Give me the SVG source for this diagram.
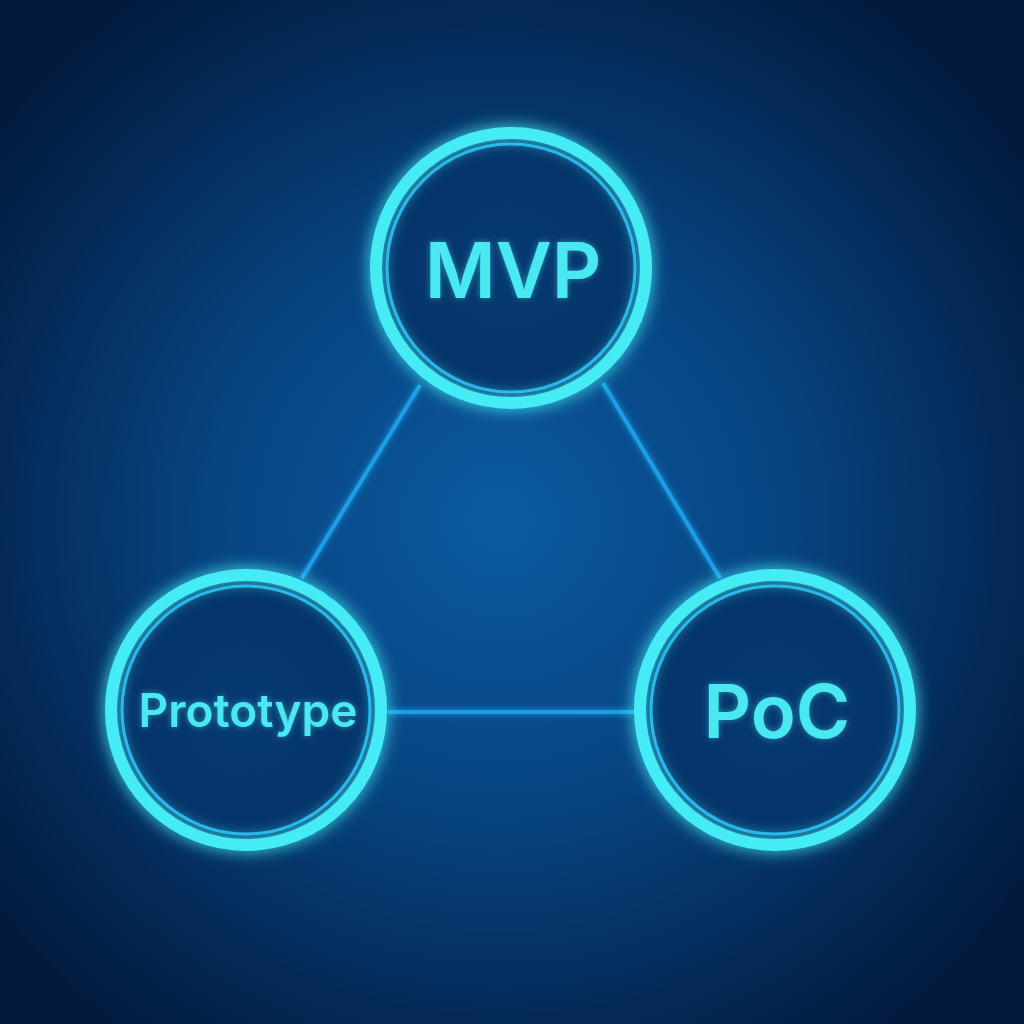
<svg xmlns="http://www.w3.org/2000/svg" width="1024" height="1024" viewBox="0 0 1024 1024">
  <defs>
    <radialGradient id="bg" cx="500" cy="520" r="640" gradientUnits="userSpaceOnUse">
      <stop offset="0" stop-color="#0b5aa0"/>
      <stop offset="0.45" stop-color="#074481"/>
      <stop offset="1" stop-color="#021a3c"/>
    </radialGradient>
    <radialGradient id="nodefill" cx="0.5" cy="0.5" r="0.5">
      <stop offset="0" stop-color="#063a72"/>
      <stop offset="1" stop-color="#05346a"/>
    </radialGradient>
    <filter id="glow" x="-30%" y="-30%" width="160%" height="160%">
      <feGaussianBlur in="SourceGraphic" stdDeviation="8" result="b"/>
      <feMerge>
        <feMergeNode in="b"/>
        <feMergeNode in="SourceGraphic"/>
      </feMerge>
    </filter>
    <filter id="lineglow" filterUnits="userSpaceOnUse" x="0" y="0" width="1024" height="1024">
      <feGaussianBlur in="SourceGraphic" stdDeviation="3" result="b"/>
      <feMerge>
        <feMergeNode in="b"/>
        <feMergeNode in="SourceGraphic"/>
      </feMerge>
    </filter>
    <filter id="textglow" x="-20%" y="-40%" width="140%" height="180%">
      <feGaussianBlur in="SourceGraphic" stdDeviation="3" result="b"/>
      <feComponentTransfer in="b" result="b2">
        <feFuncA type="linear" slope="0.5"/>
      </feComponentTransfer>
      <feMerge>
        <feMergeNode in="b2"/>
        <feMergeNode in="SourceGraphic"/>
      </feMerge>
    </filter>
  </defs>
  <style>
    .fill { fill: url(#nodefill); }
    .ring { fill: none; stroke: #45ecf6; stroke-width: 12; filter: url(#glow); }
    .inner { fill: none; stroke: #1fa8e8; stroke-width: 3; }
    .edge { stroke: #1a9fe6; stroke-width: 4; fill: none; filter: url(#lineglow); }
    .label { fill: #48e8f2; font-family: Inter, "Liberation Sans", Arial, sans-serif; font-weight: 600; text-anchor: middle; filter: url(#textglow); }
  </style>
  <rect width="1024" height="1024" fill="url(#bg)"/>
  <g id="connectors">
    <line class="edge" x1="420" y1="385" x2="302" y2="578"/>
    <line class="edge" x1="603" y1="383" x2="720" y2="578"/>
    <line class="edge" x1="388" y1="712" x2="634" y2="712"/>
  </g>
  <g id="node-mvp">
    <circle class="fill" cx="511" cy="268" r="132"/>
    <circle class="inner" cx="511" cy="268" r="124"/>
    <circle class="ring" cx="511" cy="268" r="135"/>
    <text class="label" x="513" y="298" font-size="77">MVP</text>
  </g>
  <g id="node-prototype">
    <circle class="fill" cx="246" cy="710" r="132"/>
    <circle class="inner" cx="246" cy="710" r="124"/>
    <circle class="ring" cx="246" cy="710" r="135"/>
    <text class="label" x="248" y="727" font-size="46">Prototype</text>
  </g>
  <g id="node-poc">
    <circle class="fill" cx="775" cy="710" r="132"/>
    <circle class="inner" cx="775" cy="710" r="124"/>
    <circle class="ring" cx="775" cy="710" r="135"/>
    <text class="label" x="777" y="738" font-size="74">PoC</text>
  </g>
</svg>
